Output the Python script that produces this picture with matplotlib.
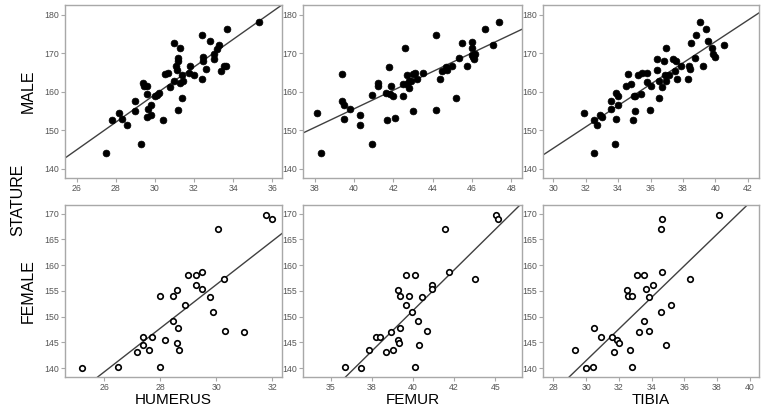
import numpy as np
import matplotlib
matplotlib.use("Agg")
import matplotlib.pyplot as plt

plt.rcParams["font.family"] = ["Liberation Sans", "DejaVu Sans"]

# ---------------- MALE ----------------
male_humerus_x = [27.50, 27.79, 28.18, 28.30, 28.59, 28.99, 28.99, 29.29, 29.41, 29.46,
                  29.58, 29.62, 29.67, 29.62, 29.79, 29.79, 30.01, 30.13, 30.23, 30.40,
                  30.52, 30.69, 30.78, 31.00, 31.00, 31.09, 31.12, 31.20, 31.20, 31.20,
                  31.26, 31.29, 31.38, 31.43, 31.38, 31.72, 31.80, 32.01, 32.40, 32.40,
                  32.48, 32.48, 32.60, 32.83, 33.00, 33.00, 33.17, 33.30, 33.37, 33.51,
                  33.65, 33.71, 35.30]
male_humerus_y = [144.2, 152.7, 154.5, 153.0, 151.3, 157.7, 154.9, 146.5, 162.4, 161.6,
                  161.6, 159.5, 155.6, 153.4, 156.6, 153.9, 158.8, 159.2, 159.7, 152.6,
                  164.7, 164.8, 161.2, 172.6, 162.9, 166.8, 165.7, 168.7, 168.1, 155.3,
                  162.3, 171.5, 164.4, 162.9, 158.4, 165.0, 166.8, 164.5, 174.8, 163.4,
                  169.2, 168.0, 166.0, 173.2, 169.9, 168.5, 171.1, 172.2, 165.5, 166.8,
                  166.8, 176.3, 178.3]

male_femur_x = [38.09, 38.31, 39.39, 39.39, 39.48, 39.50, 39.79, 40.30, 40.30, 40.89,
                40.89, 41.20, 41.20, 41.62, 41.69, 41.79, 41.83, 41.88, 42.00, 42.10,
                42.51, 42.51, 42.59, 42.68, 42.71, 42.80, 42.80, 42.90, 42.98, 42.98,
                43.10, 43.19, 43.49, 44.17, 44.17, 44.38, 44.46, 44.67, 44.75, 44.97,
                45.18, 45.36, 45.48, 45.77, 46.00, 46.00, 46.00, 46.04, 46.11, 46.16,
                46.67, 47.06, 47.39]
male_femur_y = [154.5, 144.2, 164.7, 157.7, 156.6, 152.9, 155.5, 153.9, 151.3, 159.2,
                146.5, 162.4, 161.6, 159.8, 152.6, 166.6, 159.5, 161.6, 158.8, 153.3,
                159.0, 162.1, 171.5, 164.4, 162.1, 162.9, 161.1, 162.9, 164.7, 154.9,
                165.0, 163.4, 165.0, 174.8, 155.3, 163.4, 165.5, 166.6, 165.7, 166.8,
                158.4, 168.7, 172.6, 166.8, 173.1, 171.3, 169.6, 169.0, 168.5, 169.9,
                176.3, 172.2, 178.3]

male_tibia_x = [31.89, 32.50, 32.50, 32.71, 32.91, 32.99, 33.59, 33.59, 33.79, 33.90,
                33.90, 34.00, 34.00, 34.51, 34.62, 34.82, 34.92, 34.98, 35.03, 35.03,
                35.23, 35.44, 35.50, 35.81, 35.81, 35.95, 36.01, 36.40, 36.40, 36.52,
                36.52, 36.73, 36.81, 36.87, 36.93, 36.93, 37.14, 37.38, 37.49, 37.55,
                37.63, 37.90, 38.31, 38.35, 38.45, 38.51, 38.72, 38.82, 39.03, 39.23,
                39.44, 39.54, 39.81, 39.85, 39.95, 40.52]
male_tibia_y = [154.5, 152.7, 144.2, 151.3, 154.0, 153.4, 157.7, 155.6, 146.5, 159.7,
                152.9, 159.0, 156.6, 161.6, 164.7, 162.1, 152.6, 158.8, 159.0, 154.9,
                164.4, 159.5, 165.0, 165.0, 162.5, 155.3, 161.6, 168.5, 165.7, 162.9,
                158.4, 161.2, 168.1, 164.4, 171.5, 162.9, 164.4, 168.5, 165.5, 168.1,
                163.4, 166.8, 163.4, 166.8, 166.0, 172.6, 168.7, 174.8, 178.3, 166.8,
                176.3, 173.2, 171.3, 169.9, 169.2, 172.2]

# ---------------- FEMALE ----------------
female_humerus_x = [25.22, 26.48, 27.17, 27.37, 27.40, 27.59, 27.69, 27.99, 27.99, 28.18,
                    28.47, 28.47, 28.59, 28.59, 28.65, 28.68, 28.89, 28.98, 29.28, 29.28,
                    29.48, 29.48, 29.78, 29.88, 30.08, 30.27, 30.30, 30.99, 31.79, 31.99]
female_humerus_y = [140.0, 140.2, 143.1, 144.4, 146.0, 143.5, 146.0, 140.2, 154.0, 145.4,
                    154.0, 149.2, 155.1, 144.8, 147.7, 143.5, 152.3, 158.0, 158.0, 156.1,
                    158.6, 155.3, 153.8, 150.9, 167.1, 157.3, 147.2, 147.0, 169.8, 169.0]

female_femur_x = [35.88, 36.84, 37.29, 37.76, 37.96, 38.37, 38.67, 38.78, 39.08, 39.08,
                  39.12, 39.18, 39.22, 39.55, 39.55, 39.76, 39.96, 40.14, 40.14, 40.27,
                  40.37, 40.57, 40.86, 41.16, 41.16, 41.94, 42.18, 43.78, 45.04, 45.16]
female_femur_y = [140.2, 140.0, 143.5, 146.0, 146.0, 143.1, 147.0, 143.5, 155.1, 145.4,
                  144.8, 154.0, 147.7, 158.0, 152.3, 154.0, 150.9, 158.0, 140.2, 149.2,
                  144.4, 153.8, 147.2, 156.1, 155.3, 167.1, 158.6, 157.3, 169.8, 169.0]

female_tibia_x = [29.29, 30.00, 30.41, 30.45, 30.89, 31.61, 31.69, 31.87, 32.03, 32.48,
                  32.58, 32.78, 32.68, 32.78, 33.09, 33.23, 33.56, 33.56, 33.66, 33.86,
                  33.86, 34.07, 34.55, 34.55, 34.66, 34.66, 34.86, 35.16, 36.34, 38.13]
female_tibia_y = [143.5, 140.0, 140.2, 147.7, 146.0, 146.0, 143.1, 145.4, 144.8, 155.1,
                  154.0, 154.0, 143.5, 140.2, 158.0, 147.0, 158.0, 149.2, 155.3, 147.2,
                  153.8, 156.1, 150.9, 167.1, 158.6, 169.0, 144.4, 152.3, 157.3, 169.8]

# rectas de regresion (intercepto, pendiente)
male_fits = [(51.6, 3.59), (58.8, 2.42), (61.9, 2.78)]
female_fits = [(29.0, 4.24), (25.2, 3.15), (49.35, 3.07)]

bones = ["HUMERUS", "FEMUR", "TIBIA"]
male_xlim = [(25.4, 36.5), (37.4, 48.55), (29.38, 42.68)]
female_xlim = [(24.6, 32.35), (33.3, 46.63), (27.36, 40.57)]
male_xticks = [[26, 28, 30, 32, 34, 36], [38, 40, 42, 44, 46, 48], [30, 32, 34, 36, 38, 40, 42]]
female_xticks = [[26, 28, 30, 32], [35, 37.5, 40, 42.5, 45], [28, 30, 32, 34, 36, 38, 40]]
female_xticklabels = [["26", "28", "30", "32"], ["35", "38", "40", "42", "45"],
                      ["28", "30", "32", "34", "36", "38", "40"]]

male_data = [(male_humerus_x, male_humerus_y), (male_femur_x, male_femur_y),
             (male_tibia_x, male_tibia_y)]
female_data = [(female_humerus_x, female_humerus_y), (female_femur_x, female_femur_y),
               (female_tibia_x, female_tibia_y)]

FRAME = "#a8a8a8"
TICKTXT = "#555555"
LINE = "#404040"

fig = plt.figure(figsize=(7.68, 4.07), dpi=100)

lefts = [65 / 768, 303 / 768, 543 / 768]
widths = [217 / 768, 219 / 768, 216 / 768]
top_row = (1 - 178 / 407, 173 / 407)
bot_row = (1 - 377 / 407, 172 / 407)


def style(ax):
    for s in ax.spines.values():
        s.set_color(FRAME)
        s.set_linewidth(1.0)
    ax.tick_params(colors=FRAME, labelcolor=TICKTXT, labelsize=6.3, length=3,
                   width=0.8, direction="out", pad=1.5)


for i in range(3):
    # fila masculina
    ax = fig.add_axes([lefts[i], top_row[0], widths[i], top_row[1]])
    x, y = male_data[i]
    ax.scatter(x, y, s=24, color="black", edgecolors="black", linewidths=0.5, zorder=3)
    a, b = male_fits[i]
    xl = np.array(male_xlim[i])
    ax.plot(xl, a + b * xl, color=LINE, lw=1.0, zorder=2)
    ax.set_xlim(*male_xlim[i])
    ax.set_ylim(137.6, 182.6)
    ax.set_xticks(male_xticks[i])
    ax.set_yticks([140, 150, 160, 170, 180])
    style(ax)
    if i == 0:
        ax.set_ylabel("MALE", fontsize=11.5, labelpad=6)

    # fila femenina
    ax = fig.add_axes([lefts[i], bot_row[0], widths[i], bot_row[1]])
    x, y = female_data[i]
    ax.scatter(x, y, s=16, facecolors="white", edgecolors="black", linewidths=1.2, zorder=3)
    a, b = female_fits[i]
    xl = np.array(female_xlim[i])
    ax.plot(xl, a + b * xl, color=LINE, lw=1.0, zorder=2)
    ax.set_xlim(*female_xlim[i])
    ax.set_ylim(138.25, 171.7)
    ax.set_xticks(female_xticks[i])
    ax.set_xticklabels(female_xticklabels[i])
    ax.set_yticks([140, 145, 150, 155, 160, 165, 170])
    style(ax)
    ax.set_xlabel(bones[i], fontsize=11, labelpad=0.5)
    if i == 0:
        ax.set_ylabel("FEMALE", fontsize=11.5, labelpad=6)

fig.text(18 / 768, 1 - 200 / 407, "STATURE", rotation=90, fontsize=11.5,
         ha="center", va="center")

fig.savefig("out.png", dpi=100)
